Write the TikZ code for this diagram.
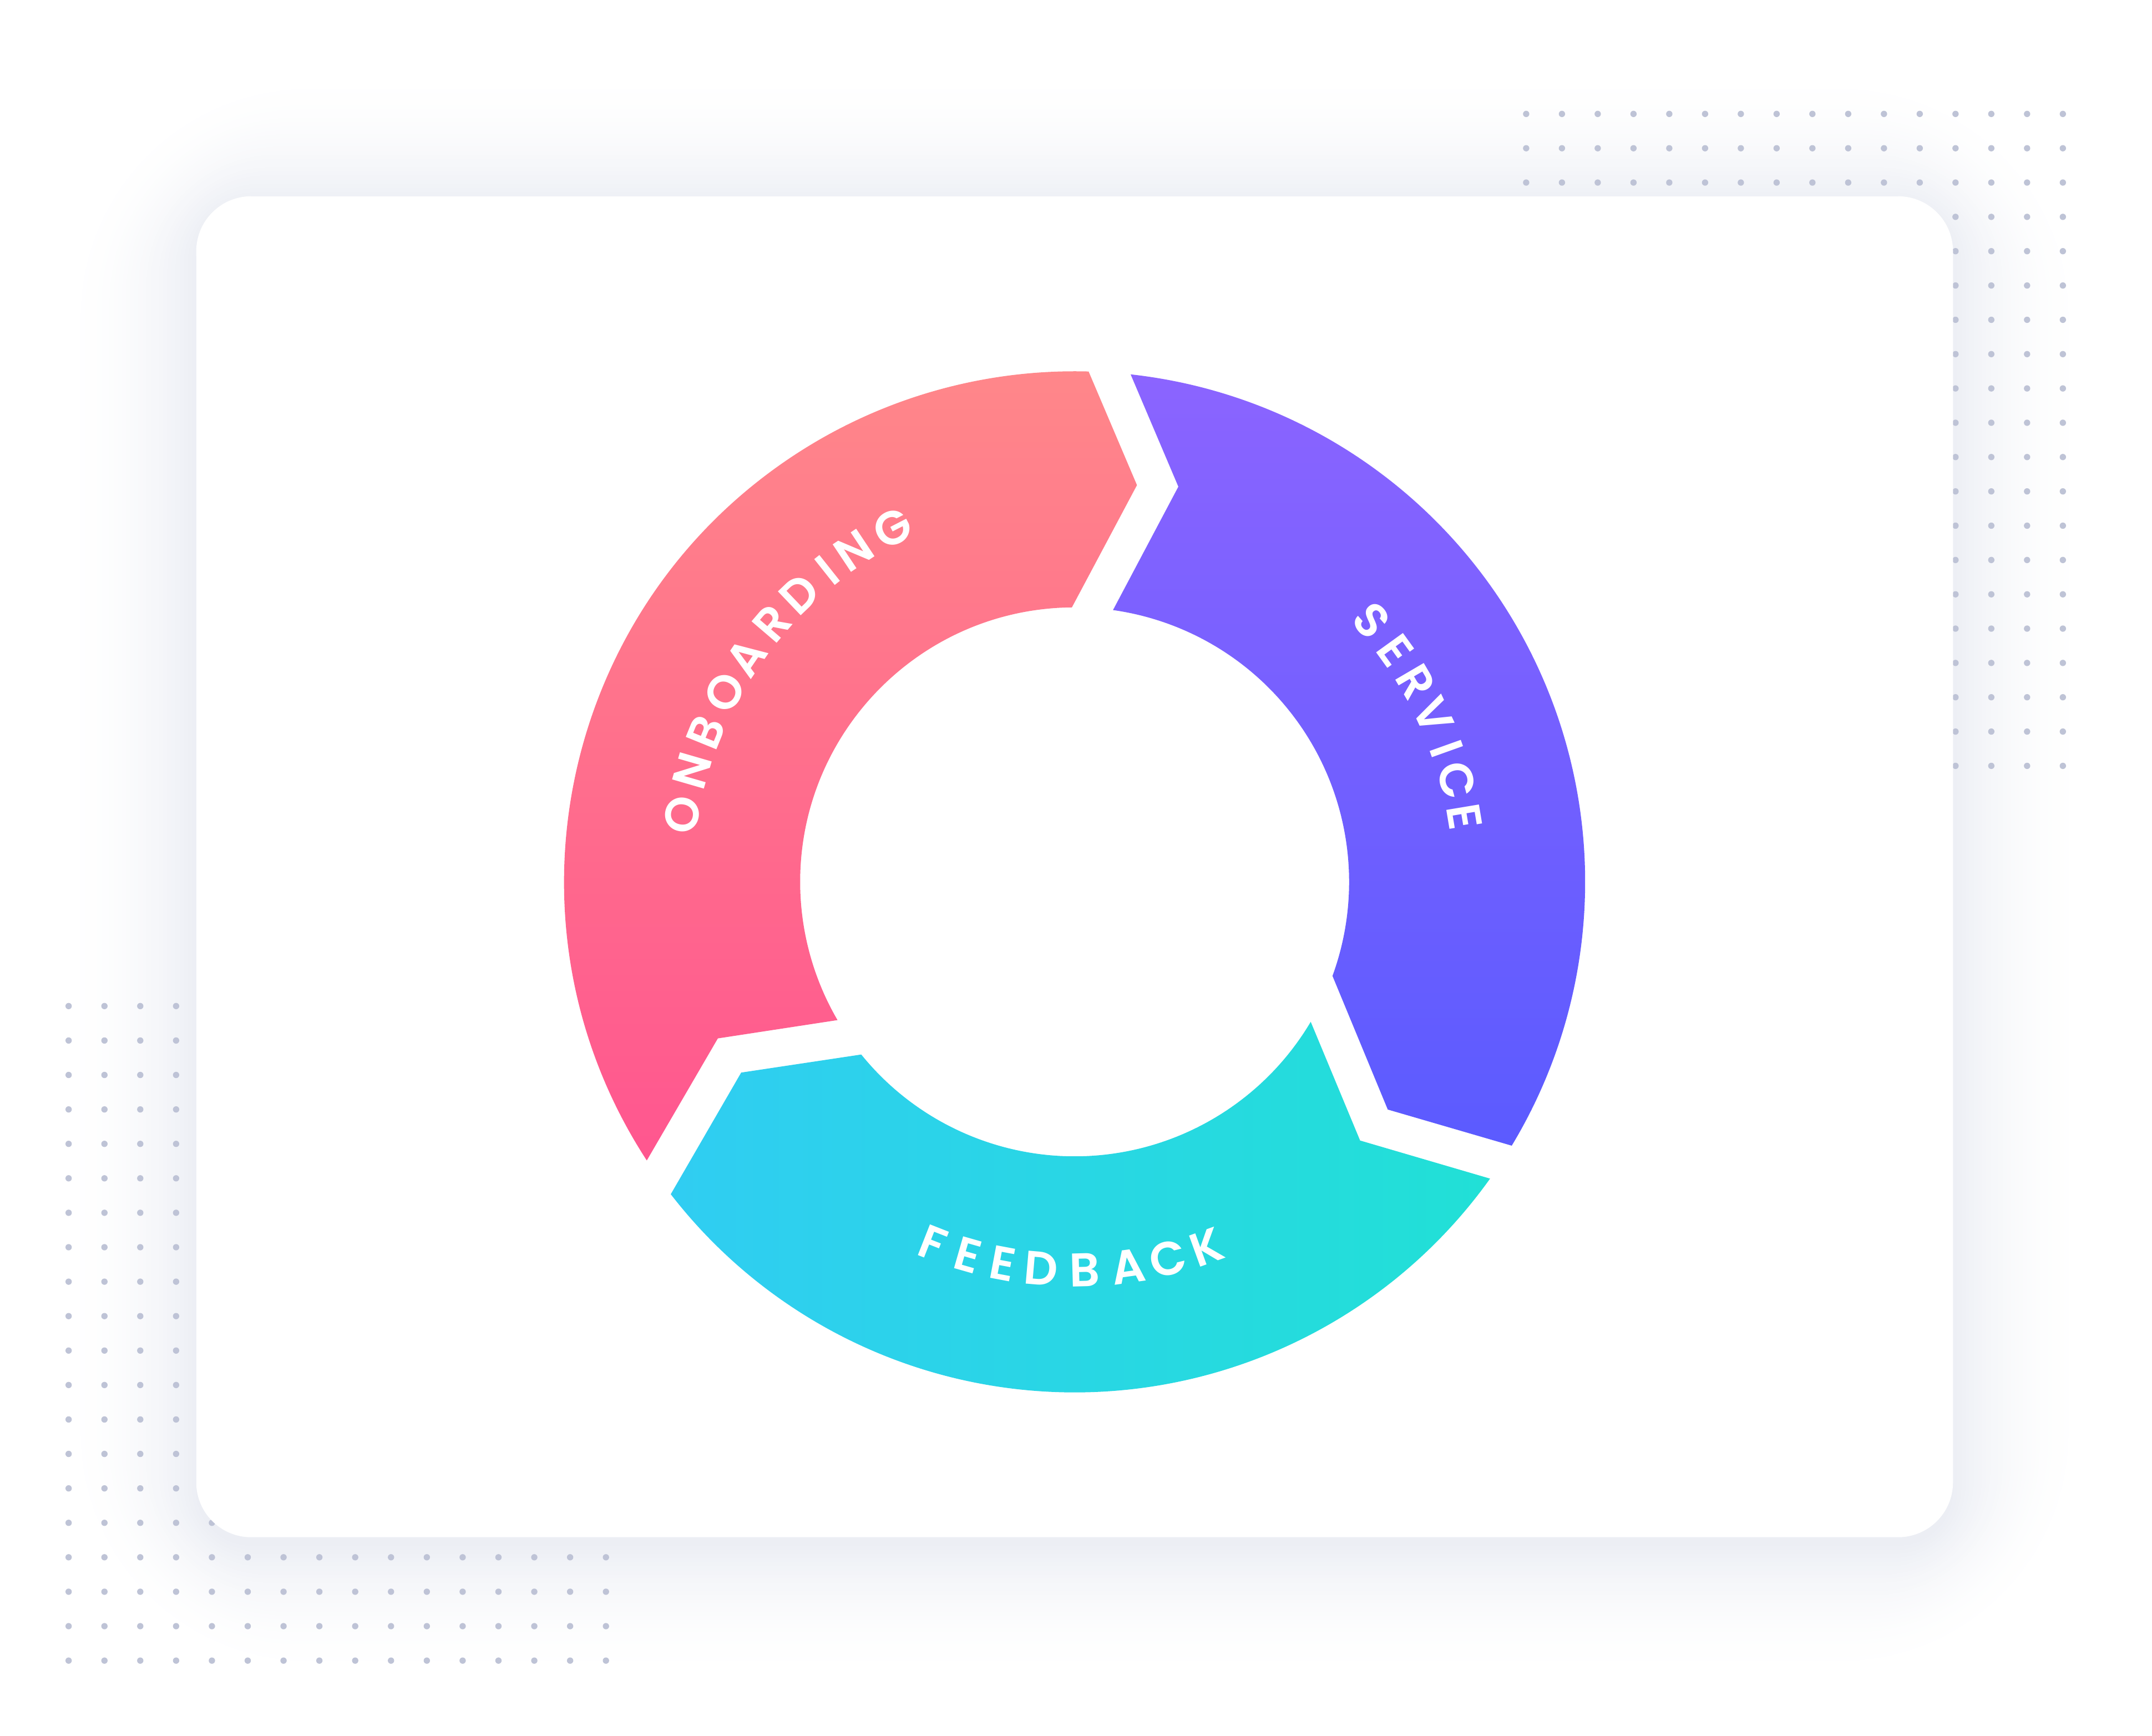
\documentclass[tikz,border=0pt]{standalone}
\usepackage{fontspec}
\IfFontExistsTF{Poppins SemiBold}
  {\newfontfamily\ringfont{Poppins SemiBold}}
  {\IfFontExistsTF{Poppins-SemiBold.ttf}
    {\newfontfamily\ringfont{Poppins-SemiBold.ttf}}
    {\newfontfamily\ringbase{Poppins}\newcommand\ringfont{\ringbase\bfseries}}}
\definecolor{shadowedge}{HTML}{ECEEF4}
\definecolor{dotgray}{HTML}{BEC3D6}
\definecolor{onbtop}{HTML}{FF878A}
\definecolor{onbbot}{HTML}{FF568F}
\definecolor{servtop}{HTML}{8B64FF}
\definecolor{servbot}{HTML}{5B5BFF}
\definecolor{feedleft}{HTML}{30CDF2}
\definecolor{feedright}{HTML}{21E0D6}

\begin{document}
\begin{tikzpicture}[x=0.01cm,y=0.01cm]
		\tikzstyle{every node}+=[inner sep=0pt]
		\tikzstyle{ringtext}=[text=white, font=\ringfont\fontsize{9.8}{10}\selectfont]
		\useasboundingbox (0,0) rectangle (1568,-1264.8);
		\fill [white] (0,0) rectangle (1568,-1264.8);
		% soft shadow round the card, from the outside in
		\foreach \s [evaluate=\s as \p using {int(100*(1-\s/102)^2)}] in {99,96,...,0}
			\fill [shadowedge!\p!white, rounded corners={0.4cm+\s*0.015cm}] ({143-\s},{-149+\s}) rectangle ({1423+\s},{-1126-\s});
		% dot grids
		\foreach \i in {0,...,15}
			\foreach \j in {0,...,19}
			{
				\fill [dotgray] ({1112+26.07*\i},{-83-25*\j}) circle (2.3);
				\fill [dotgray] ({50+26.1*\i},{-733-25.1*\j}) circle (2.3);
			}
		% card
		\fill [white, rounded corners=0.4cm] (143,-143) rectangle (1423,-1120);
		% ring
		\begin{scope}[shift={(783,-642.5)}]
			\shade [top color=onbtop, bottom color=onbbot] (213.07:372) arc [start angle=213.07, end angle=88.43, radius=372] -- (81.07:292.6) -- (90.57:200) arc [start angle=90.57, end angle=210.24, radius=200] -- (203.69:283.9) -- cycle;
			\shade [top color=servtop, bottom color=servbot] (83.70:372) arc [start angle=83.70, end angle=-31.11, radius=372] -- (-36.02:282.1) -- (-20.04:200) arc [start angle=-20.04, end angle=81.96, radius=200] -- (75.29:297.7) -- cycle;
			\shade [left color=feedleft, right color=feedright] (-35.54:372) arc [start angle=-35.54, end angle=-142.28, radius=372] -- (209.77:279.9) -- (218.98:200) arc [start angle=218.98, end angle=329.34, radius=200] -- (-42.18:280.7) -- cycle;
			% labels, one letter at a time
			\foreach \ch/\ang [count=\k] in {O/170.27, N/163.82, B/157.89, O/151.54, A/145.67, R/139.45, D/133.71, I/128.45, N/123.65, G/117.26}
				\node [ringtext, rotate=\ang-90] (onb\k) at (\ang:290) {\ch};
			\foreach \ch/\ang [count=\k] in {S/41.38, E/35.79, R/30.37, V/24.95, I/19.66, C/14.86, E/9.46}
				\node [ringtext, rotate=\ang-90] (serv\k) at (\ang:288) {\ch};
			\foreach \ch/\ang [count=\k] in {F/-111.45, E/-106.0, E/-100.64, D/-94.92, B/-88.5, A/-82.09, C/-76.13, K/-70.1}
				\node [ringtext, rotate=\ang+90] (feed\k) at (\ang:283) {\ch};
		\end{scope}
	\end{tikzpicture}
\end{document}
